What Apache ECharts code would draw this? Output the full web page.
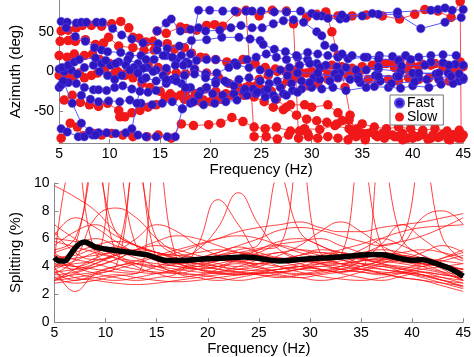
<!DOCTYPE html>
<html><head><meta charset="utf-8">
<script src="https://cdn.jsdelivr.net/npm/echarts@6/dist/echarts.min.js"></script>
<style>html,body{margin:0;padding:0;background:#fff}#c{width:474px;height:357px}</style>
</head><body><div id="c"></div>
<script>
// ---------- top panel: azimuth tracks [frequency Hz, azimuth deg] ----------
const fastTracks = [
 [[5.2,63],[5.8,62],[6.7,61],[7.2,62],[7.7,62],[8.7,62],[9.3,62],[10.3,54],[11.2,46],[12.2,41],[13.3,36],[14.8,35],[15.7,29],[16.9,32],[18.1,39],[19.6,40],[21.1,43],[22.8,43],[23.9,41],[24.9,39],[25.2,34],[26.3,28],[27.4,25],[28.6,18],[29.6,15],[30.5,10],[31.4,8],[32.5,6],[33.4,5],[35.4,2],[36.6,3],[38.8,0],[40,-2],[42.3,-3],[43.5,-2],[44.6,-4]],
 [[5.7,55],[6.6,44],[7.6,38],[8.5,30],[9.2,27],[9.8,25],[11.1,24],[12,20],[13.1,20],[14.7,27],[15.6,20],[16.6,15],[17.6,12],[18.6,14],[19.6,15],[20.5,15],[22.4,11],[23.6,15],[24.5,18],[25.5,22],[26.5,18],[27.5,15],[28.5,20],[29.6,24],[30.6,22],[31.6,20],[32.6,18],[33.6,16],[35.5,18],[36.7,20],[38,19],[39.3,20],[40.6,18],[41.8,20],[43,21],[44.3,20]],
 [[12.8,-80],[13.6,-82],[14.6,-82],[15.7,-82],[16.5,-82],[17.2,-47],[17.8,10],[18.8,77],[19.9,77],[21.2,76],[22.4,76],[23.5,76],[24.1,76],[25,76],[26.3,75],[27.5,75],[28.9,76],[30,73],[31,70],[31.6,67],[32.8,66],[33.4,67],[35,70],[36.6,72],[38.5,72],[40.8,54],[43.2,62],[44.8,68]],
 [[30.5,70],[33,71],[36,73],[38.5,75],[41.8,77],[42.5,78],[43.2,80],[43.9,77],[45,78]],
 [[14.7,51],[15.6,61],[16.1,66],[17,51],[18,53],[18.8,55],[19.5,51],[20.9,52],[22,55],[23,58],[24.1,55],[25.1,55],[26.2,60],[27.2,64],[28.2,65],[29.2,62],[30.5,50],[31,45],[31.3,33],[32.2,30],[33,22],[34,20],[35.2,18],[36.6,16],[38.6,14],[39.8,15],[41.8,12],[43,11],[44.2,9],[45,8]],
 [[5,3],[5.5,0],[6.2,2],[6.8,-3],[7.5,5],[8.4,8],[9.2,10],[10.1,8],[10.9,12],[11.8,15],[12.8,10],[13.7,5],[14.6,2],[15.6,4],[16.5,8],[17.3,8],[18.4,3],[19.5,-3],[20.6,-2],[21.8,5],[22.6,8],[23.8,5],[24.9,2],[25.8,-2],[26.9,2],[27.8,5],[28.8,8],[29.8,10],[30.8,5],[32.8,-2],[34.6,-6],[36.3,-5],[38.4,-6],[40.6,-8],[42.6,-10],[44.6,-12]],
 [[5,-20],[5.2,-17],[5.9,-14],[6.7,-15],[7.5,-20],[8.4,-23],[8.9,-23],[9.7,-24],[10.5,-20],[11.3,-18],[12.2,-22],[13,-25],[13.8,-26],[14.6,-24],[15.6,-15],[16.5,-8],[17.4,-5],[18.4,-3],[19.5,-8],[20.5,-12],[21.6,-14],[22.8,-10],[23.8,-8],[24.9,-12],[25.8,-15],[26.9,-20],[28,-15],[29,-12],[30.2,-8],[32.3,-3],[34.4,2],[36.6,6],[38.9,7],[41.2,8],[43.6,8]],
 [[5.3,5],[5.9,8],[6.5,12],[7,15],[8.6,17],[9.6,14],[10.6,10],[11.6,8],[12.4,5],[13.3,4],[14.3,0],[15.3,-5],[16.2,-10],[17.1,-15],[18,-20],[19,-25],[20.2,-28],[21.2,-30],[22.3,-28],[23.3,-25],[24.2,-22],[25.3,-25],[26.2,-30],[27.2,-28],[28.1,-24],[29,-22],[30,-20],[31,-22],[32.1,-20],[33.4,-24],[35.4,-20],[36.2,-19],[37.6,-20],[38.8,-21],[40,-18],[41.6,-20],[42.8,-16],[44,-15],[45,-10]],
 [[7.2,-30],[8.1,-35],[8.9,-38],[9.9,-37],[11,-38],[12,-36],[13.1,-40],[14.2,-42],[15.2,-40],[16.2,-38],[17.2,-47],[18,-40],[18.8,-30],[19.6,-20],[20.5,-15],[21.4,-12],[22.3,-18],[23.4,-22],[24.5,-28],[25.4,-32],[26.4,-35],[27.5,-30],[28.6,-26],[29.8,-14],[30.8,-10],[31.8,-12],[33.8,-10],[34.8,-14],[36.8,-12],[37.9,-15],[40.2,-13],[41.4,-10],[43.8,-6],[45,-8]],
 [[5.2,-72],[5.8,-76],[6.9,-82],[7.5,-82],[8.3,-80],[8.9,-77],[9.7,-77],[10.6,-78],[11.6,-77],[12.2,-72],[12.7,-40],[13.2,-10],[13.6,15],[14.4,15],[15.3,20],[16.2,18],[17.1,20],[18,22]],
 [[5.4,-12],[6.3,-40],[7.2,-65],[8,-75],[8.6,-80]],
 [[9,0],[9.8,-5],[10.5,-10],[11.2,-5],[12,2],[12.8,-2],[13.6,-8],[14.6,-12],[15.6,-10],[16.6,-12],[17.5,-20],[18.3,-38],[19.3,-42],[20.4,-40],[21.5,-38],[22.6,-36],[23.6,-30],[24.6,-26],[25.6,-22],[26.6,-12],[27.6,-5],[28.6,-2],[30.6,-2],[32.6,-8],[34.6,-10],[36.6,-6],[38.6,-6],[40.6,-2],[42.6,-2],[44.6,-3]]
];
const slowTracks = [
 [[5.2,51],[5.9,52],[6.7,55],[7.3,58],[8.2,58],[9.2,57],[10.2,60],[11.1,63],[11.9,55],[12.3,43],[12.9,42],[13.6,37],[14.3,38],[14.7,51],[15.6,48],[17,56],[17.6,54],[18.6,52],[19.6,58],[20.4,59],[21.2,57],[22.6,75],[23.5,77],[24.3,-82],[25.5,-82],[26.6,-85],[27.7,-80],[28.8,-75],[29.6,-78],[30.6,-84],[31.6,-82],[32.6,-84],[33.6,-86],[34.4,-82],[35.3,-84],[36.3,-80],[37.2,-84],[38.2,-82],[39,-86],[40,-84],[40.8,-80],[41.8,-84],[42.7,-82],[43.7,-86],[44.6,-82]],
 [[5.1,38],[5.9,39],[6.3,40],[6.6,38],[7.6,40],[8.6,34],[9.4,36],[9.9,43],[10.9,32],[12.3,30],[13.4,27],[14.4,27],[15.7,35],[16.4,28],[17.4,30],[18.1,23],[19,18],[19.5,17],[20.5,15],[21.6,12],[23.2,15],[24.4,10],[25.4,5],[26.4,3],[27.4,0],[28.4,2],[29.5,-2],[30.6,-5],[31.6,-3],[32.6,-4],[33.8,-2],[35,2],[36.3,7],[37.4,10],[38,12],[38.7,14],[39.8,10],[41,9],[42.2,10],[43.4,8],[44.7,12]],
 [[5,-5],[5.5,-3],[6,-8],[6.5,-5],[7,-2],[7.5,-8],[8.2,-5],[8.8,-2],[9.5,2],[10.5,-2],[11.5,-5],[12.3,-8],[13.2,-15],[14,-20],[15,-25],[16,-28],[17,-30],[18,-35],[19,-38],[20,-38],[21,-35],[22,-30],[23,-25],[24,-20],[25,-22],[26,-25],[27,-18],[27.6,-12],[28.2,-5],[29,-2],[30,0],[31,5],[32,8],[33,6],[34,4],[35,6],[36,8],[37,10],[38.2,5],[39.4,3],[40.6,6],[41.8,8],[43,5],[44.2,3],[45,6]],
 [[5.5,-36],[6.3,-30],[7.1,-39],[8,-42],[8.9,-44],[9.8,-40],[10.9,-49],[11,-57],[11.5,-57],[12.2,-52],[13,-49],[13.8,-45],[14.6,-42],[15.5,-33],[16.4,-32],[17.4,-35],[18.3,-38],[19.3,-36],[20.3,-34],[21.3,-30],[22.3,-28],[23.3,-30],[24.3,-32],[25.3,-38],[26.2,-45],[27.2,-48],[27.9,-42],[29.3,-42],[30,-45],[31.6,-42],[32.6,-52],[33.7,-61],[34.5,-72],[35.5,-78],[36.5,-82],[37.5,-80],[38.5,-82],[39.5,-84],[40.5,-82],[41.5,-85],[42.5,-83],[43.5,-85],[44.5,-84]],
 [[5.2,-84],[6.1,-65],[6.8,-70],[7.4,-81],[8.4,-78],[9.2,-80],[10.2,-78],[11.3,-80],[12.3,-82],[13.7,-82],[14.8,-80],[16.1,-84],[17.1,-66],[18.3,-68],[19.8,-67],[21,-65],[22.1,-58],[23.2,-63],[24.3,-70],[25.4,-72],[26.5,-70],[27.9,-75],[29.3,-72],[30.8,-73],[32.3,-68],[33.7,-72],[35,-66],[36.2,-70],[37.4,-72],[38.6,-70],[39.8,-72],[41,-74],[42.2,-72],[43.4,-75],[44.6,-74]],
 [[33,-62],[34,-76],[35,-78],[36,-76],[37,-78],[38,-80],[39,-78],[40,-80],[41,-78],[42,-80],[43,-79],[44,-80],[45,-80]],
 [[31.6,68],[32.6,70],[34,70],[35.4,71],[37,70],[38.7,66],[40.2,72],[41.2,78],[42.5,76],[43.8,68],[44.7,88],[44.8,-84]],
 [[24.8,70],[26.1,77],[27.5,76],[28.2,60],[28.7,-84],[29.7,-82]],
 [[29.5,68],[30.5,72],[31.4,75],[32,50],[32.6,20],[33.3,-20],[33.8,-55],[34.3,-80],[35.3,-86]],
 [[5,20],[5.8,18],[6.5,22],[7.5,20],[8.3,22],[9,15],[10,10],[10.8,0],[11.5,-3],[12.2,2],[13,5],[13.8,8],[14.8,5],[15.6,0],[16.6,-2],[17.5,-3],[18.4,3],[19.6,-2],[20.8,-8],[21.8,-15],[22.8,-20],[23.8,-18],[24.8,-10],[25.7,-5],[26.6,0],[27.6,-2],[28.6,-8],[29.6,-18],[30.6,-15],[31.6,-10],[32.6,-8],[33.6,-5],[34.6,-8],[35.6,-10],[36.6,-12],[37.6,-10],[38.6,-12],[39.6,-8],[40.6,-10],[41.6,-8],[42.6,-10],[43.6,-12],[44.6,-10]],
 [[17.5,-25],[18.5,-28],[19.5,-22],[20.5,-25],[21.5,-28],[22.5,-24],[23.5,-20],[24.5,-18],[25.5,-25],[26.5,-35],[27.5,-45],[28.5,-55],[29.5,-60],[30.5,-62],[31.5,-64],[32.5,-66]]
];
const azTicks = [-50, 0, 50];

// ---------- bottom panel: splitting (%) ----------
const freqGrid = [5,7,9,11,13,15,17,19,21,23,25,27,29,31,33,35,37,39,41,43,45];
const splitCurves = [
 [9.8,9.0,8.0,6.5,5.5,5.0,4.8,4.6,4.5,4.4,4.5,4.6,4.4,4.3,4.2,4.4,4.5,4.3,4.2,4.0,3.8],
 [4.5,12,5.0,4.2,3.8,3.6,3.5,3.8,4.0,4.2,3.9,3.6,3.5,3.7,4.0,4.2,4.1,3.9,3.6,3.2,2.8],
 [3.5,4.5,7.5,8.2,7.5,6.0,5.0,4.6,4.2,4.0,4.2,4.5,4.8,5.2,5.0,4.6,4.2,4.0,3.8,3.5,3.0],
 [4.0,5.5,12,5.0,4.0,3.5,3.2,3.4,3.8,4.5,5.0,5.5,5.2,4.8,4.5,4.0,3.8,3.6,3.4,3.2,3.0],
 [3.0,3.2,3.5,4.0,12,4.5,3.5,3.2,3.0,3.2,3.5,3.8,4.0,3.8,3.5,3.2,3.0,3.3,3.6,3.4,3.2],
 [6.0,5.8,5.5,5.2,5.0,4.8,5.0,5.5,6.0,6.5,6.8,7.0,7.2,6.8,6.5,6.5,6.8,7.0,7.2,7.5,7.8],
 [5.0,4.0,3.5,3.2,3.0,3.2,3.5,5.5,8.8,7.0,4.8,4.0,3.6,3.3,3.1,3.0,3.2,3.5,3.8,4.0,4.2],
 [3.2,2.8,3.0,3.3,3.5,4.0,4.5,5.2,6.8,9.3,7.0,5.2,4.5,4.2,4.0,3.8,3.6,3.5,3.3,3.0,2.8],
 [4.2,3.8,4.0,4.5,5.2,5.8,6.2,6.0,5.5,5.0,4.6,4.4,4.5,4.8,5.2,5.6,6.0,5.5,4.8,4.2,3.6],
 [4.8,4.5,4.2,3.8,3.6,3.5,3.7,4.0,4.4,4.8,5.2,5.5,12,5.0,4.5,4.2,4.0,3.8,3.6,3.4,3.2],
 [3.8,3.2,3.0,2.8,2.7,2.8,3.0,3.2,3.4,3.5,3.4,3.3,3.2,3.4,3.6,3.8,3.5,3.2,3.0,2.6,2.2],
 [5.5,6.5,7.0,6.2,5.5,5.0,4.6,4.5,4.8,5.0,5.3,5.6,5.8,6.0,5.5,5.0,4.6,4.4,4.2,4.0,3.8],
 [4.4,5.0,5.5,5.8,5.5,5.0,4.5,4.2,4.0,3.8,3.7,3.8,4.0,4.4,4.8,12,5.5,4.5,4.0,3.6,3.4],
 [3.6,3.0,3.4,3.8,4.2,4.6,4.2,3.8,3.6,3.8,4.2,4.8,5.5,6.5,7.2,6.5,5.5,4.8,4.4,4.0,3.6],
 [6.5,5.0,4.5,4.8,5.2,5.5,5.2,4.8,4.5,4.3,4.2,4.0,3.8,3.7,3.8,4.0,4.5,5.5,7.5,8.0,7.0],
 [4.0,2.2,3.5,4.0,4.2,4.0,3.8,3.6,3.5,3.6,3.8,4.0,4.2,4.5,4.2,3.8,3.5,3.2,3.0,2.8,2.6],
 [5.2,6.0,11,6.5,5.5,5.0,4.8,5.0,5.2,5.0,4.8,4.6,4.5,4.4,4.6,4.8,5.0,4.8,4.6,4.4,4.2],
 [3.4,3.6,4.2,5.0,6.0,7.0,6.5,5.5,4.8,4.4,4.2,4.4,4.8,5.0,4.8,4.5,4.3,4.5,5.0,5.5,5.0],
 [4.6,4.8,5.2,4.8,4.2,3.8,3.5,3.4,3.6,4.0,4.5,5.0,4.6,4.2,3.8,3.6,3.5,3.8,4.2,4.6,5.0],
 [3.0,3.5,4.0,4.5,5.0,4.6,4.2,4.0,4.2,4.6,5.2,5.8,6.0,5.5,4.8,4.2,3.8,3.6,3.4,3.0,2.5],
 [7.0,6.0,5.2,4.6,4.2,4.0,4.2,4.6,5.0,5.5,6.0,6.6,6.8,6.6,6.2,5.8,5.5,5.8,6.2,6.8,7.5],
 [4.0,4.2,4.5,12,5.5,4.8,4.4,4.0,3.8,3.6,3.5,3.6,3.8,4.0,4.2,4.4,4.6,4.4,4.2,4.0,3.8],
 [3.2,3.4,3.6,4.0,4.4,4.8,5.2,5.6,6.0,6.2,6.0,5.5,5.0,4.6,4.2,4.0,12,6.0,4.8,4.2,3.8],
 [5.8,5.4,5.0,4.6,4.4,4.2,4.0,3.8,3.6,3.4,3.6,3.8,4.0,4.2,4.4,4.6,4.8,5.0,5.2,5.0,4.6],
 [4.8,3.6,3.2,3.0,3.2,3.5,3.8,4.2,4.6,5.0,4.8,4.4,4.0,3.8,3.6,4.0,4.4,4.8,4.4,3.8,3.0],
 [3.8,4.4,5.0,5.4,5.0,4.4,4.0,3.8,4.0,4.4,4.0,3.6,3.4,3.5,3.8,4.4,5.6,7.0,6.0,5.0,4.4],
 [4.2,4.0,3.8,3.6,3.5,12,4.5,3.8,3.5,3.4,3.5,3.6,3.8,4.0,3.8,3.6,3.4,3.6,4.0,4.4,4.8],
 [5.0,5.5,6.0,5.5,5.0,4.5,4.2,4.4,4.8,5.2,5.6,10.5,6.5,5.5,5.0,4.6,4.4,4.2,4.0,4.6,5.2],
 [3.6,3.8,4.2,4.8,5.2,5.0,4.6,4.2,3.8,3.6,3.4,3.2,3.4,3.6,4.0,4.8,5.5,6.0,12,6.0,4.5],
 [4.4,4.6,4.8,5.0,4.8,4.6,4.4,4.2,4.4,4.6,4.8,5.0,5.2,5.0,4.8,5.0,5.2,5.0,4.6,4.0,3.4],
 [3.0,3.8,4.6,5.0,4.6,4.0,3.6,3.4,3.2,3.0,3.2,3.5,3.8,4.2,4.6,5.2,6.0,6.5,6.8,6.9,7.0],
 [6.2,7.5,6.8,5.8,5.0,4.6,4.4,4.6,5.0,5.4,5.0,4.6,4.4,4.6,5.0,4.6,4.2,3.8,3.4,3.0,2.6],
 [4.6,4.0,4.4,5.0,11,6.0,4.8,4.4,4.0,3.8,4.0,4.4,4.2,3.8,3.6,3.8,4.2,4.6,4.2,3.6,3.0],
 [2.8,3.0,3.2,3.4,3.2,3.0,2.9,3.0,3.2,3.4,3.6,3.4,3.2,3.0,3.2,3.6,4.0,3.6,3.2,2.8,2.4]
];
const meanFreq  = [5,5.5,6,6.5,7,7.5,8,8.5,9,10,11,12,13,14,15,16,17,18,20,22,23.5,25,27,29,31,33,35,36,37,38,39,40,41,42,43,44,45];
const meanSplit = [4.65,4.4,4.4,4.8,5.3,5.65,5.75,5.6,5.4,5.25,5.15,5.05,4.95,4.85,4.6,4.42,4.42,4.45,4.55,4.62,4.68,4.58,4.4,4.5,4.6,4.68,4.82,4.86,4.85,4.72,4.55,4.45,4.48,4.3,4.05,3.75,3.3];

// ---------- build ----------
const FONT = 'Liberation Sans, Arial, sans-serif';
const BLUE_PT = '#2e17bf', BLUE_LN = '#4545ff', RED_PT = '#f01818', RED_LN = '#f03c3c';
const series = [];
slowTracks.forEach(t => series.push({
  type:'line', name:'Slow', xAxisIndex:0, yAxisIndex:0, data:t, symbol:'circle', symbolSize:9.5,
  showAllSymbol:true, clip:false, silent:true, z:2,
  itemStyle:{color:RED_PT}, lineStyle:{color:RED_LN, width:0.9}
}));
fastTracks.forEach(t => series.push({
  type:'line', name:'Fast', xAxisIndex:0, yAxisIndex:0, data:t, symbol:'circle', symbolSize:8.5,
  showAllSymbol:true, clip:false, silent:true, z:3,
  itemStyle:{color:BLUE_PT, borderColor:'#5a4cf0', borderWidth:0.5}, lineStyle:{color:BLUE_LN, width:0.9}
}));
splitCurves.forEach(c => series.push({
  type:'line', xAxisIndex:1, yAxisIndex:1, data:freqGrid.map((f,i)=>[f,c[i]]),
  symbol:'none', smooth:0.45, clip:true, silent:true, z:2,
  lineStyle:{color:'#ff1010', width:0.8}
}));
series.push({
  type:'line', xAxisIndex:1, yAxisIndex:1, data:meanFreq.map((f,i)=>[f,meanSplit[i]]),
  symbol:'none', smooth:0.4, clip:true, silent:true, z:5,
  lineStyle:{color:'#000', width:5.5}
});

const axisCommon = {
  axisLine:{show:true, onZero:false, lineStyle:{color:'#888', width:1}},
  axisTick:{show:true, inside:true, length:4, lineStyle:{color:'#888'}},
  splitLine:{show:false},
  axisLabel:{color:'#000', fontSize:14, fontFamily:FONT},
  nameTextStyle:{color:'#000', fontSize:15, fontFamily:FONT}
};
const xAxisDef = (gi) => Object.assign({}, axisCommon, {
  type:'value', gridIndex:gi, min:5, max:45, interval:5,
  name:'Frequency (Hz)', nameLocation:'middle', nameGap:17,
  axisLabel:Object.assign({}, axisCommon.axisLabel, {margin:4})
});

const option = {
  animation:false,
  textStyle:{fontFamily:FONT},
  grid:[
    {left:40, width:427, top:0, height:143, containLabel:false},
    {left:40, width:427, top:183, height:140, containLabel:false}
  ],
  xAxis:[xAxisDef(0), xAxisDef(1)],
  yAxis:[
    Object.assign({}, axisCommon, {
      type:'value', gridIndex:0, min:-90, max:90,
      name:'Azimuth (deg)', nameLocation:'middle', nameGap:26,
      axisLabel:Object.assign({}, axisCommon.axisLabel, {margin:5, customValues:azTicks}),
      axisTick:Object.assign({}, axisCommon.axisTick, {customValues:azTicks})
    }),
    Object.assign({}, axisCommon, {
      type:'value', gridIndex:1, min:0, max:10, interval:2,
      name:'Splitting (%)', nameLocation:'middle', nameGap:22,
      axisLabel:Object.assign({}, axisCommon.axisLabel, {margin:5})
    })
  ],
  legend:{
    data:[{name:'Fast', icon:'circle'}, {name:'Slow', icon:'circle'}],
    orient:'vertical', left:390, top:95, itemWidth:9, itemHeight:9, itemGap:0,
    padding:[1,6,1,4], backgroundColor:'#fff', borderColor:'#777', borderWidth:1,
    textStyle:{color:'#000', fontSize:14, fontFamily:FONT, lineHeight:12, padding:[0,0,0,-2]},
    selectedMode:false, z:10
  },
  series:series
};
const chart = echarts.init(document.getElementById('c'), null, {renderer:'canvas'});
chart.setOption(option);
</script></body></html>
